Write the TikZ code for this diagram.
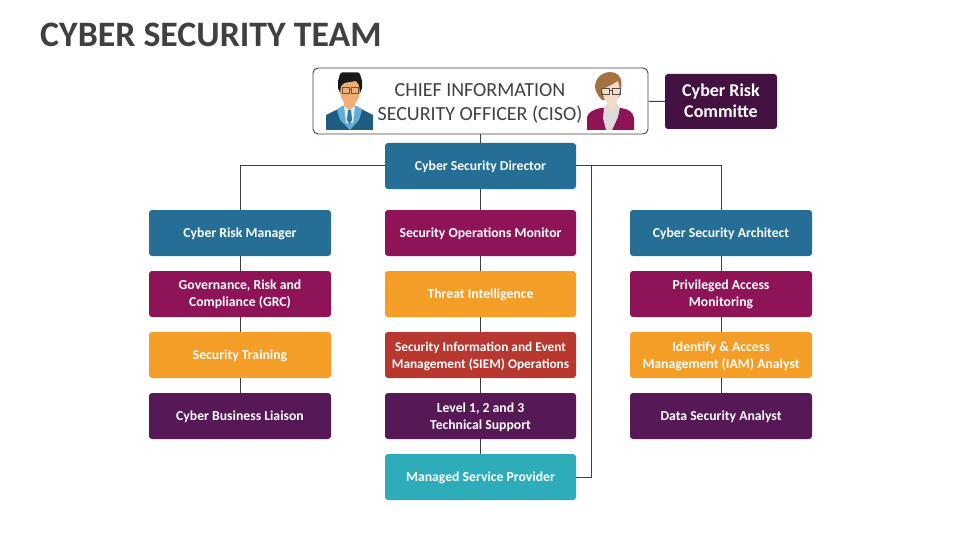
\documentclass[tikz,border=0pt]{standalone}
\usepackage{fontspec}
\setmainfont{Carlito}
\definecolor{cblue}{HTML}{256F97}
\definecolor{cmag}{HTML}{8F1457}
\definecolor{corange}{HTML}{F49D27}
\definecolor{cpurple}{HTML}{571858}
\definecolor{cdark}{HTML}{431241}
\definecolor{cred}{HTML}{B8372E}
\definecolor{cteal}{HTML}{2FACB9}
\definecolor{ctext}{HTML}{404040}
\definecolor{cskin}{HTML}{F0AE76}
\definecolor{cjacket}{HTML}{1F5C82}
\definecolor{clight}{HTML}{62ACD8}
\definecolor{chair}{HTML}{A5713F}
\definecolor{cfair}{HTML}{F8D9C8}
\newcommand{\dn}[1]{\raisebox{-1.2pt}[\height][\depth]{#1}}
\newcommand{\dnn}[1]{\raisebox{-0.2pt}[\height][\depth]{#1}}
\tikzset{
 x=1pt,y=-1pt,
 card/.style={rounded corners=3pt,minimum height=46pt,text=white,font=\bfseries\fontsize{13.7}{16.5}\selectfont,align=center,inner sep=0pt,anchor=center},
 wl/.style={card,minimum width=182pt},
 wm/.style={card,minimum width=191pt},
 link/.style={draw=ctext,line width=0.8pt},
}
\begin{document}
\begin{tikzpicture}
\useasboundingbox (0,0) rectangle (960,540);
\node[anchor=west,font=\bfseries\fontsize{35.8}{40}\selectfont,text=ctext,inner sep=0pt] (title) at (40,34.5) {CYBER SECURITY TEAM};
% top
\node[draw=ctext,line width=0.9pt,fill=white,rounded corners=5pt,minimum width=335pt,minimum height=66pt,inner sep=0pt] (ciso) at (480.5,101) {};
\node[text=ctext,font=\fontsize{20}{23.5}\selectfont,align=center,inner sep=0pt] (cisotext) at (480,103.5) {CHIEF INFORMATION\\SECURITY OFFICER (CISO)};
\node[card,fill=cdark,minimum width=112pt,minimum height=55pt,font=\bfseries\fontsize{18}{21}\selectfont] (crc) at (721,101.5) {\raisebox{0.5pt}[\height][\depth]{Cyber Risk}\\\raisebox{0.5pt}[\height][\depth]{Committe}};
\node[wm,fill=cblue] (dir) at (480.5,166) {\dn{Cyber Security Director}};
% left
\node[wl,fill=cblue] (l1) at (240,233) {\dn{Cyber Risk Manager}};
\node[wl,fill=cmag] (l2) at (240,294) {\dnn{Governance, Risk and}\\\dnn{Compliance (GRC)}};
\node[wl,fill=corange] (l3) at (240,355) {\dn{Security Training}};
\node[wl,fill=cpurple] (l4) at (240,416) {\dn{Cyber Business Liaison}};
% middle
\node[wm,fill=cmag] (m1) at (480.5,233) {\dn{Security Operations Monitor}};
\node[wm,fill=corange] (m2) at (480.5,294) {\dn{Threat Intelligence}};
\node[wm,fill=cred,font=\bfseries\fontsize{13.3}{16.5}\selectfont] (m3) at (480.5,355) {\dn{Security Information and Event}\\\dn{Management (SIEM) Operations}};
\node[wm,fill=cpurple] (m4) at (480.5,416) {\dn{Level 1, 2 and 3}\\\dn{Technical Support}};
\node[wm,fill=cteal] (m5) at (480.5,477) {\dn{Managed Service Provider}};
% right
\node[wl,fill=cblue] (r1) at (721,233) {\dn{Cyber Security Architect}};
\node[wl,fill=cmag] (r2) at (721,294) {\dnn{Privileged Access}\\\dnn{Monitoring}};
\node[wl,fill=corange] (r3) at (721,355) {\dn{Identify \& Access}\\\dn{Management (IAM) Analyst}};
\node[wl,fill=cpurple] (r4) at (721,416) {\dn{Data Security Analyst}};
% connectors
\draw[link] (ciso) -- (crc);
\draw[link] (ciso) -- (dir);
\draw[link] (dir) -- (m1);
\draw[link] (m1) -- (m2);
\draw[link] (m2) -- (m3);
\draw[link] (m3) -- (m4);
\draw[link] (m4) -- (m5);
\draw[link] (l1) -- (l2);
\draw[link] (l2) -- (l3);
\draw[link] (l3) -- (l4);
\draw[link] (r1) -- (r2);
\draw[link] (r2) -- (r3);
\draw[link] (r3) -- (r4);
\draw[link] ([yshift=0.5pt]dir.west) -| (l1.north);
\draw[link] ([yshift=0.5pt]dir.east) -| (r1.north);
\coordinate (bend) at (591,165.5);
\draw[link] (bend) |- (m5.east);
% man
\fill[cjacket] (326,130) -- (326,115) -- (342,107) -- (357,107) -- (373,115) -- (373,130) -- cycle;
\fill[clight] (337,110) -- (342,106) -- (357,106) -- (362,110) -- (359,120) -- (350,130) -- (340,120) -- cycle;
\fill[white!80!clight] (344,106) -- (355,106) -- (353,123) -- (346,123) -- cycle;
\fill[cjacket!70!clight] (348,110) -- (351,110) -- (352,120) -- (349.5,124) -- (347,120) -- cycle;
\fill[cskin] (344,100) -- (355,100) -- (355,106) -- (349.5,110) -- (344,106) -- cycle;
\fill[cskin] (340,84) .. controls (340,78) and (360,78) .. (360,84) -- (360,93) .. controls (359,100) and (354,106) .. (350,106) .. controls (346,106) and (341,100) .. (340,93) -- cycle;
\fill[black!90] (340,93) -- (338,88) -- (338,81) -- (340,74) -- (342,72.5) -- (358,72.5) -- (360,74) -- (362,81) -- (362,88) -- (360,93) -- (359,85) -- (356,81) -- (344,83) -- (341,86) -- cycle;
\draw[black!65,line width=0.6pt] (342,87) rectangle (349,93) (351,87) rectangle (358,93) (349,89) -- (351,89);
% woman
\fill[cmag] (587,130) -- (587,117) .. controls (588,112) and (595,109) .. (601,108) -- (621,108) .. controls (628,109) and (633,112) .. (634,118) -- (634,130) -- cycle;
\fill[chair] (595,86) .. controls (596,76) and (604,72) .. (610,72) .. controls (617,72) and (622,76) .. (621.5,85) .. controls (621,92) and (620,96) .. (618,98) -- (602,100) .. controls (597,95) and (595,90) .. (595,86) -- cycle;
\fill[black!14] (604,108) -- (607,103) -- (616,103) -- (620,107) -- (618,117) -- (612,130) -- (606,130) -- (603,118) -- cycle;
\fill[cfair] (607,100) -- (616,100) -- (616,106) -- (611.5,112) -- (607,106) -- cycle;
\fill[cfair] (602,89) .. controls (607,88) and (613,84) .. (618,81) -- (620,90) .. controls (619,98) and (615,105) .. (611,105) .. controls (607,105) and (603,98) .. (602,89) -- cycle;
\draw[black!70,line width=0.7pt] (601,88.5) rectangle (609,94) (612,88.5) rectangle (620,94) (609,90) -- (612,90);
\end{tikzpicture}
\end{document}
